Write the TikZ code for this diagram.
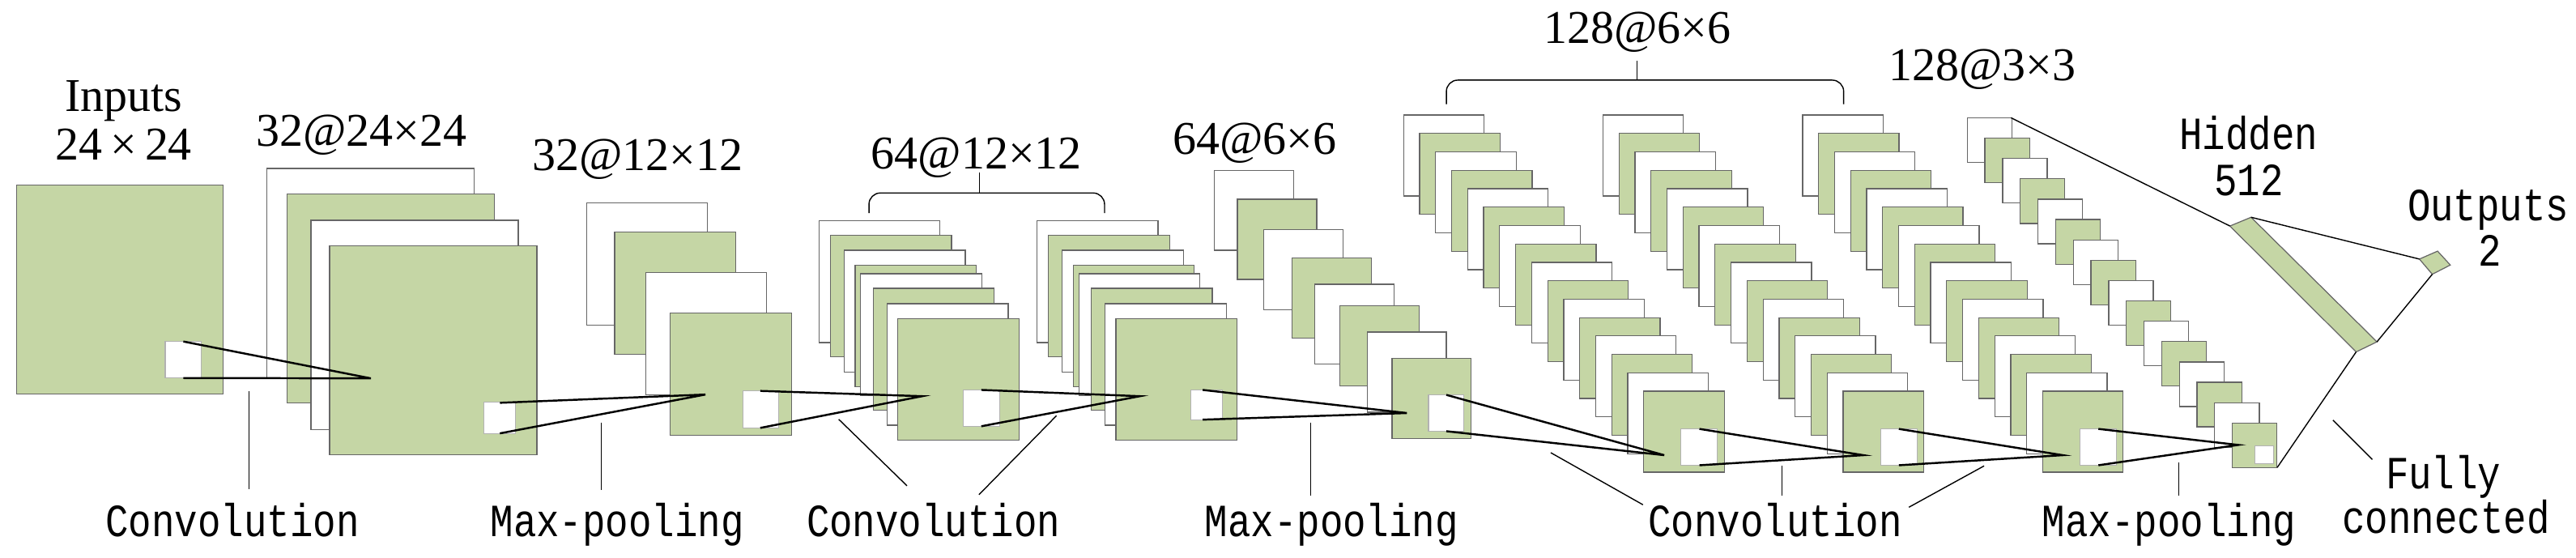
\documentclass[tikz,border=0pt]{standalone}
\usepackage{fontspec}
\setmainfont{Liberation Serif}
\newfontfamily\monof{Liberation Mono}
\definecolor{fmgreen}{RGB}{197,214,165}
\newcommand\tl[1]{\scalebox{1}[1.2]{#1}}
\newcommand\mystack[7]{%
  \foreach \i in {0,...,#5}{%
    \pgfmathsetmacro\xx{#1+(#3-#1)*\i/#5}%
    \pgfmathsetmacro\yy{#2+(#4-#2)*\i/#5}%
    \pgfmathtruncatemacro\od{mod(\i,2)}%
    \ifnum\od=0 \def\fc{white}\else\def\fc{fmgreen}\fi
    \filldraw[fm,fill=\fc] (\xx,\yy) rectangle ++(#6,#7);}}
\begin{document}
\begin{tikzpicture}[x=0.0204cm,y=-0.0204cm,
  fm/.style={draw=gray!80!black,line width=0.35pt},
  win/.style={fill=white,draw=gray!60,line width=0.3pt},
  tri/.style={draw=black,line width=0.7pt},
  tick/.style={draw=black,line width=0.4pt},
  dim/.style={font=\fontsize{16.5}{18}\selectfont,anchor=base,inner sep=0pt},
  op/.style={font=\fontsize{13.5}{16}\monof,anchor=base,inner sep=0pt}]
\useasboundingbox (0,0) rectangle (1559.3,337.3);
% input
\filldraw[fm,fill=fmgreen] (10,112) rectangle (135,238.6);
\filldraw[win] (100,206.7) rectangle (122,228.8);
% layer 1
\foreach \x/\y/\c in {161.6/102/white,173.8/117.3/fmgreen,188.2/133.3/white,199.5/148.7/fmgreen}
  \filldraw[fm,fill=\c] (\x,\y) rectangle ++(125.5,126.6);
\filldraw[win] (293,243.6) rectangle (312,262.3);
% layer 2
\foreach \x/\y/\c in {355.1/122.9/white,372/140.5/fmgreen,390.8/165/white,405.8/189.5/fmgreen}
  \filldraw[fm,fill=\c] (\x,\y) rectangle ++(73.2,74);
\filldraw[win] (449.6,236.6) rectangle (471.5,259);
% conv A and B
\foreach \dx in {0,132}{
\foreach \x/\y/\c in {495.7/133.7/white,502.7/142.5/fmgreen,511/151.5/white,517.6/160.6/fmgreen,521/165.7/white,528.5/174.5/fmgreen,537/183.8/white,543.5/192.7/fmgreen}
  \filldraw[fm,fill=\c] (\x+\dx,\y) rectangle ++(73.3,73.6);}
\filldraw[win] (583,236) rectangle (605,258);
\filldraw[win] (720.6,236) rectangle (740,254);
% pool 2
\foreach \x/\y/\c in {735/103/white,749/120.6/fmgreen,765/139/white,782/156/fmgreen,796/172/white,811/185/fmgreen,827.5/201/white,842.6/216.8/fmgreen}
  \filldraw[fm,fill=\c] (\x,\y) rectangle ++(48,48.5);
\filldraw[win] (864.7,239) rectangle (886,261);
% conv C stacks
\mystack{849.6}{69.6}{995}{236.8}{15}{48.7}{49}
\mystack{970.3}{69.6}{1115.7}{236.8}{15}{48.7}{49}
\mystack{1091.1}{69.6}{1236.5}{236.8}{15}{48.7}{49}
\filldraw[win] (1017.6,259.6) rectangle ++(22,22);
\filldraw[win] (1138.3,259.6) rectangle ++(22,22);
\filldraw[win] (1259.1,259.6) rectangle ++(22,22);
% pool 3
\mystack{1190.8}{71.3}{1351.3}{256}{15}{27}{27}
\filldraw[win] (1365,270) rectangle (1376,280.7);
% hidden and output
\filldraw[fm,fill=fmgreen] (1349.8,136.8) coordinate (h1) -- (1362.6,131.5) coordinate (h2) -- (1438.8,206.9) coordinate (h3) -- (1426.2,213) coordinate (h4) -- cycle;
\filldraw[fm,fill=fmgreen] (1464.5,156.8) coordinate (o1) -- (1475.5,152) -- (1483.2,160.4) -- (1472.3,166) coordinate (o4) -- cycle;
% coordinates for connectors
\coordinate (w0a) at (111,206.7); \coordinate (w0b) at (111,228.8); \coordinate (a1) at (224.5,229);
\coordinate (w1a) at (302.6,243.8); \coordinate (w1b) at (302.6,262.3); \coordinate (a2) at (427,238.8);
\coordinate (w2a) at (460.2,236.6); \coordinate (w2b) at (460.2,259); \coordinate (a3) at (558.2,239.8);
\coordinate (w3a) at (594,236); \coordinate (w3b) at (594,258); \coordinate (a4) at (690,239.8);
\coordinate (w4a) at (728,236); \coordinate (w4b) at (728,254); \coordinate (a5) at (851.6,250);
\coordinate (w5a) at (875.5,239); \coordinate (w5b) at (875.5,261); \coordinate (a6) at (1007.4,275.5);
\coordinate (w6a) at (1028.7,259.6); \coordinate (w6b) at (1028.7,281.6); \coordinate (a7) at (1127.9,275.5);
\coordinate (w7a) at (1149.4,259.6); \coordinate (w7b) at (1149.4,281.6); \coordinate (a8) at (1248.6,275.5);
\coordinate (w8a) at (1270.2,259.6); \coordinate (w8b) at (1270.2,281.6); \coordinate (a9) at (1354.8,269.3);
\foreach \n in {0,...,8}{
  \pgfmathtruncatemacro\m{\n+1}
  \draw[tri] (w\n a) -- (a\m) -- (w\n b);}
\coordinate (p3t) at (1217.3,71.3); \coordinate (p3b) at (1378.4,283);
\draw[tick] (p3t) -- (h1); \draw[tick] (p3b) -- (h4);
\draw[tick] (h2) -- (o1); \draw[tick] (h3) -- (o4);
% braces
\draw[tick,rounded corners=4pt] (526,129) -- (526,116.8) -- (668.6,116.8) -- (668.6,129);
\draw[tick] (593,116.8) -- (593,104.6);
\draw[tick,rounded corners=4pt] (875.5,63) -- (875.5,48.5) -- (1116,48.5) -- (1116,63);
\draw[tick] (991,48.5) -- (991,36.8);
% dimension labels
\node[dim] (lin1) at (75,67.6) {Inputs};
\node[dim] (lin2) at (75,96.6) {24\,×\,24};
\node[dim] (l1) at (218.8,88.4) {32@24×24};
\node[dim] (l2) at (386,103) {32@12×12};
\node[dim] (l3) at (591,102) {64@12×12};
\node[dim] (l4) at (759.5,93.4) {64@6×6};
\node[dim] (l5) at (991,26.4) {128@6×6};
\node[dim] (l6) at (1200,48.7) {128@3×3};
\node[op] (lh1) at (1361.2,90.3) {\tl{Hidden}};
\node[op] (lh2) at (1361.2,118.4) {\tl{512}};
\node[op] (lo1) at (1506.2,133.4) {\tl{Outputs}};
\node[op] (lo2) at (1507,161) {\tl{2}};
% operation labels
\node[op] (c1) at (140.7,324.5) {\tl{Convolution}};
\node[op] (m1) at (373.6,324.5) {\tl{Max-pooling}};
\node[op] (c2) at (565,324.5) {\tl{Convolution}};
\node[op] (m2) at (806,324.5) {\tl{Max-pooling}};
\node[op] (c3) at (1074.5,324.5) {\tl{Convolution}};
\node[op] (m3) at (1313,324.5) {\tl{Max-pooling}};
\node[op] (f1) at (1479,296) {\tl{Fully}};
\node[op] (f2) at (1480.6,322.6) {\tl{connected}};
% ticks
\draw[tick] (150.6,237) -- (150.6,296);
\draw[tick] (364,255.7) -- (364,296.6);
\draw[tick] (507.7,253.8) -- (549,294);
\draw[tick] (639.5,251.6) -- (592.6,299.4);
\draw[tick] (793.3,255.7) -- (793.3,299.9);
\draw[tick] (938.7,274) -- (994.5,305.5);
\draw[tick] (1078.7,282) -- (1078.7,300);
\draw[tick] (1201,282) -- (1155.5,307);
\draw[tick] (1318.8,280) -- (1318.8,300);
\draw[tick] (1412.2,254.3) -- (1436,278.1);
\end{tikzpicture}
\end{document}
